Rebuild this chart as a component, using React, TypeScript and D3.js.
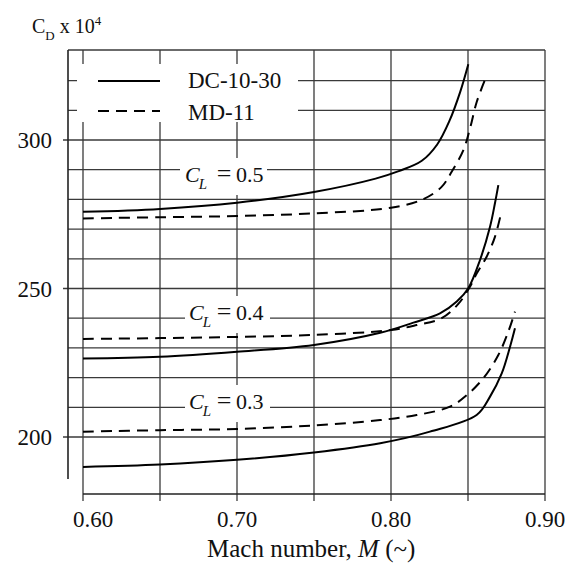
import React from "react";
import * as d3 from "d3";

// ---- data ----
const xTicks = [0.6, 0.65, 0.7, 0.75, 0.8, 0.85, 0.9];
const xTickLabels = ["0.60", "", "0.70", "", "0.80", "", "0.90"];
const yGrid = [200, 210, 220, 230, 240, 250, 260, 270, 280, 290, 300, 310, 320];
const yTickLabels = [200, 250, 300];

const dc10Cl05M = [0.6, 0.65, 0.7, 0.75, 0.79, 0.805, 0.82, 0.83, 0.838, 0.845, 0.8502];
const dc10Cl05CD = [275.8, 276.8, 278.9, 282.5, 287.0, 289.5, 293.0, 298.5, 306.5, 316.3, 325.5];
const md11Cl05M = [0.6, 0.65, 0.7, 0.75, 0.8, 0.821, 0.833, 0.8394, 0.847, 0.8513, 0.8557, 0.861];
const md11Cl05CD = [273.6, 274.0, 274.4, 275.3, 277.2, 280.1, 284.3, 289.3, 296.6, 303.9, 312.9, 320.2];

const dc10Cl04M = [0.6, 0.65, 0.7, 0.75, 0.793, 0.8145, 0.8318, 0.8427, 0.8502, 0.8578, 0.8643, 0.8675, 0.8697];
const dc10Cl04CD = [226.4, 227.0, 228.7, 231.0, 235.1, 238.5, 241.6, 245.6, 250.1, 259.6, 270.8, 278.7, 284.8];
const md11Cl04M = [0.6, 0.65, 0.7, 0.75, 0.8, 0.8167, 0.8329, 0.8437, 0.8513, 0.8557, 0.8621, 0.8675, 0.8714];
const md11Cl04CD = [233.0, 233.3, 233.7, 234.4, 236.0, 237.7, 240.0, 244.8, 250.6, 255.1, 260.7, 267.4, 275.2];

const dc10Cl03M = [0.6, 0.65, 0.7, 0.75, 0.793, 0.8253, 0.8556, 0.8643, 0.8719, 0.8773, 0.8805];
const dc10Cl03CD = [189.9, 190.7, 192.3, 194.8, 197.9, 201.8, 207.4, 213.6, 221.4, 230.4, 236.6];
const md11Cl03M = [0.6, 0.65, 0.7, 0.75, 0.793, 0.8167, 0.8383, 0.8492, 0.86, 0.8697, 0.8762, 0.8805];
const md11Cl03CD = [201.8, 202.3, 202.7, 203.9, 205.7, 207.4, 210.2, 214.1, 219.8, 227.6, 235.5, 242.2];

const seriesNames = ["DC-10-30", "MD-11"];
const clLabels = ["0.5", "0.4", "0.3"];

const W = 574;
const H = 576;
const FONT = "'Liberation Serif', 'Times New Roman', serif";

export default function App() {
  const x = d3.scaleLinear().domain([0.6, 0.9]).range([83, 545]);
  const y = d3.scaleLinear().domain([200, 300]).range([437, 140]);
  const yTopV = y.invert(50);
  const yBotV = y.invert(494);
  const yAxisEnd = y.invert(479);
  const axisX = 68;

  const line = d3
    .line<[number, number]>()
    .x((d) => x(d[0]))
    .y((d) => y(d[1]))
    .curve(d3.curveCatmullRom.alpha(0.5));

  const zip = (a: number[], b: number[]) => a.map((m, i) => [m, b[i]] as [number, number]);

  const curves = [
    { d: zip(dc10Cl05M, dc10Cl05CD), dash: false },
    { d: zip(md11Cl05M, md11Cl05CD), dash: true },
    { d: zip(dc10Cl04M, dc10Cl04CD), dash: false },
    { d: zip(md11Cl04M, md11Cl04CD), dash: true },
    { d: zip(dc10Cl03M, dc10Cl03CD), dash: false },
    { d: zip(md11Cl03M, md11Cl03CD), dash: true },
  ];

  const gridColor = "#3a3a3a";
  const gw = 1.3;
  const dashArr = "11,7";

  const labelBaselines = [182, 320, 409];
  const labelX0 = [185, 189, 189];

  return (
    <svg
      width={W}
      height={H}
      style={{ position: "absolute", left: 0, top: 0, background: "#fff" }}
      fontFamily={FONT}
    >
      <rect x={0} y={0} width={W} height={H} fill="#fff" />
      {yGrid.map((v) => (
        <line
          key={"h" + v}
          x1={yTickLabels.includes(v) ? axisX - 5 : axisX}
          x2={x(0.9)}
          y1={y(v)}
          y2={y(v)}
          stroke={gridColor}
          strokeWidth={gw}
        />
      ))}
      <line x1={axisX} x2={x(0.9)} y1={y(yTopV)} y2={y(yTopV)} stroke={gridColor} strokeWidth={gw} />
      {xTicks.map((t) => (
        <line
          key={"v" + t}
          x1={x(t)}
          x2={x(t)}
          y1={y(yTopV)}
          y2={y(yBotV) + 7}
          stroke={gridColor}
          strokeWidth={gw}
        />
      ))}
      <line x1={x(0.6)} x2={x(0.9)} y1={y(yBotV)} y2={y(yBotV)} stroke="#222" strokeWidth={1.6} />
      <line x1={axisX} x2={axisX} y1={y(yTopV)} y2={y(yAxisEnd)} stroke="#222" strokeWidth={1.6} />

      {/* legend */}
      <rect x={77} y={64} width={221} height={58} fill="#fff" />
      <line x1={98} x2={160} y1={81} y2={81} stroke="#000" strokeWidth={2} />
      <line x1={98} x2={160} y1={111} y2={111} stroke="#000" strokeWidth={2} strokeDasharray={dashArr} />
      <text x={188} y={88} fontSize={23} fill="#111">
        {seriesNames[0]}
      </text>
      <text x={188} y={120} fontSize={23} fill="#111">
        {seriesNames[1]}
      </text>

      {/* CL labels */}
      {clLabels.map((lab, i) => {
        const b = labelBaselines[i];
        const x0 = labelX0[i];
        const gapL = i === 0 ? 180 : 185;
        const gapR = i === 0 ? 267 : 270;
        return (
          <g key={"cl" + lab}>
            <rect x={gapL} y={b - 24} width={gapR - gapL} height={37} fill="#fff" />
            <text x={x0} y={b} fontSize={22} fontStyle="italic" fill="#111">
              C
              <tspan fontSize={15} dx={-1} dy={7}>
                L
              </tspan>
            </text>
            <text x={224} y={b} fontSize={26} textAnchor="middle" fill="#111">
              =
            </text>
            <text x={236} y={b} fontSize={22} fill="#111">
              {lab}
            </text>
          </g>
        );
      })}

      {curves.map((c, i) => (
        <path
          key={"c" + i}
          d={line(c.d) || ""}
          fill="none"
          stroke="#000"
          strokeWidth={2}
          strokeDasharray={c.dash ? dashArr : undefined}
        />
      ))}

      {yTickLabels.map((v) => (
        <text key={"yl" + v} x={52} y={y(v) + 8} fontSize={23} textAnchor="end" fill="#111">
          {v}
        </text>
      ))}
      {xTicks.map((t, i) =>
        xTickLabels[i] ? (
          <text
            key={"xl" + t}
            x={i === 0 ? x(t) + 10 : x(t)}
            y={527}
            fontSize={23}
            textAnchor="middle"
            fill="#111"
          >
            {xTickLabels[i]}
          </text>
        ) : null
      )}

      <text x={207} y={557} fontSize={25} fill="#111">
        Mach number, <tspan fontStyle="italic">M</tspan> (~)
      </text>
      <text x={32} y={33} fontSize={20} fill="#111">
        C
        <tspan fontSize={13} dy={7}>
          D
        </tspan>
        <tspan fontSize={20} dx={5} dy={-7}>
          x 10
        </tspan>
        <tspan fontSize={13} dy={-8}>
          4
        </tspan>
      </text>
    </svg>
  );
}
